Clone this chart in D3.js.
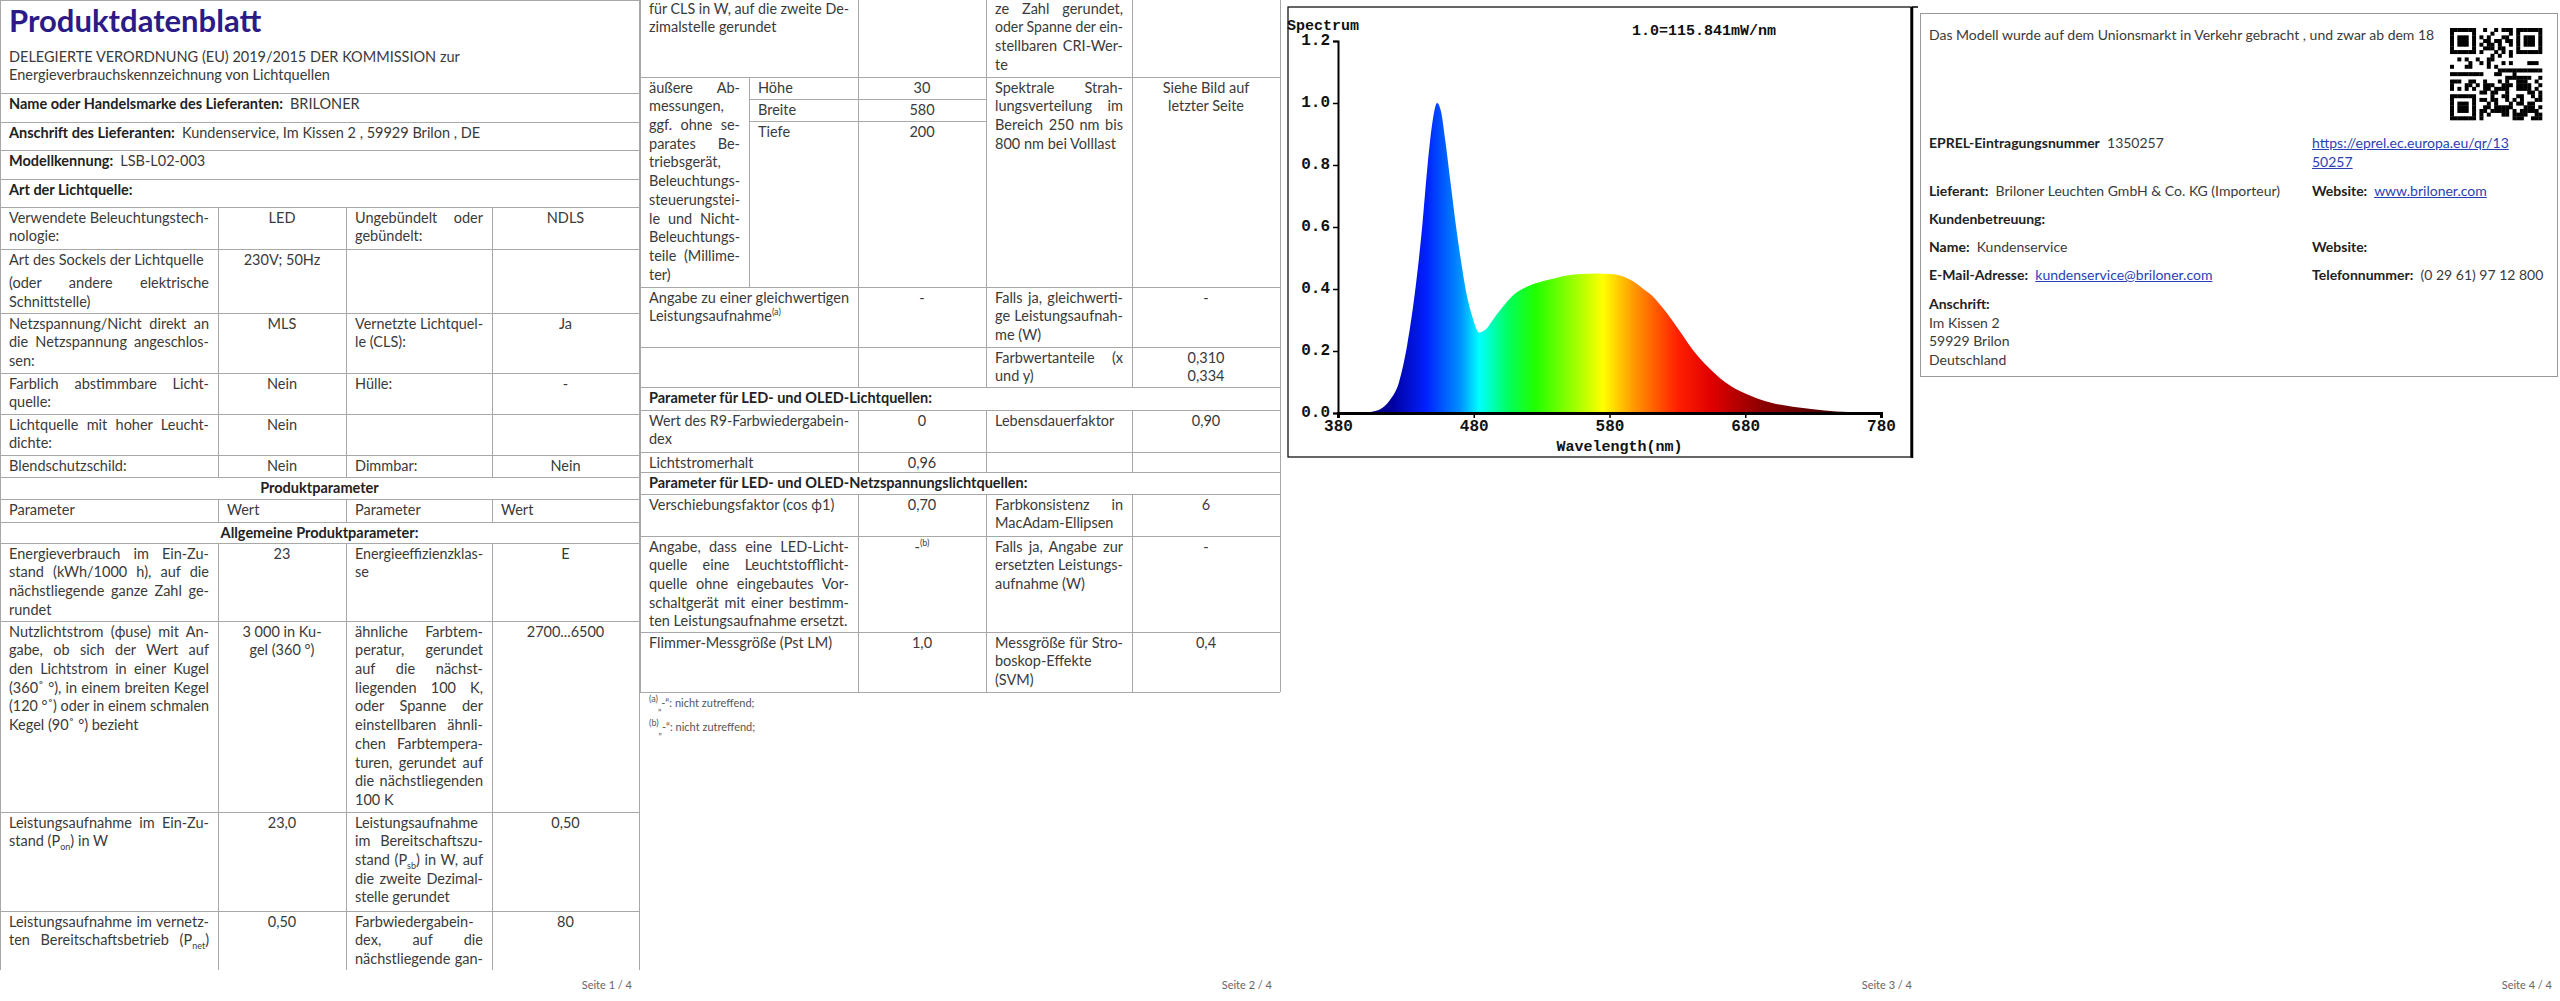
<!DOCTYPE html>
<html>
<head>
<meta charset="utf-8">
<script src="https://cdn.jsdelivr.net/npm/d3@7"></script>
<style>
  body { margin: 0; width: 2560px; height: 1001px; background: #fff; overflow: hidden; position: relative;
         font-family: Lato, "Open Sans", sans-serif; color: #3a3a3a; }
  svg { position: absolute; left: 0; top: 0; }
  .t { position: absolute; font-size: 14.5px; line-height: 18.7px; white-space: nowrap; transform-origin: 0 0; }
  .t sub, .t sup { font-size: 9px; line-height: 0; }
  .b { font-weight: bold; color: #222; }
  .foot { position: absolute; font-size: 11px; color: #666; font-family: Lato, sans-serif; }
  a { color: #2a3fb5; }
</style>
</head>
<body>
<script>
// ---- spectrum data ----
const wavelengths = [380, 400, 410, 418, 425, 431, 437, 442, 446, 450, 453, 456, 459, 463, 467, 471, 474, 479, 484, 489, 494, 501, 509, 518, 527, 540, 551, 560, 570, 581, 590, 599, 605, 611, 619, 626, 634, 642, 650, 657, 665, 672, 680, 687, 695, 702, 715, 730, 747, 765, 780];
const spectrum    = [0.0, 0.002, 0.01, 0.04, 0.1, 0.22, 0.4, 0.6, 0.8, 0.95, 1.0, 0.97, 0.88, 0.74, 0.6, 0.48, 0.4, 0.31, 0.26, 0.27, 0.3, 0.34, 0.38, 0.405, 0.42, 0.435, 0.445, 0.448, 0.45, 0.448, 0.44, 0.42, 0.4, 0.38, 0.34, 0.3, 0.25, 0.2, 0.16, 0.13, 0.1, 0.08, 0.063, 0.05, 0.038, 0.03, 0.02, 0.012, 0.005, 0.002, 0.0];
const xTicks = [380, 480, 580, 680, 780];
const yTicks = [0, 0.2, 0.4, 0.6, 0.8, 1.0, 1.2];
const colorStops = [[380, "#10004a"], [420, "#0000a0"], [445, "#0020ff"], [470, "#0090ff"], [484, "#00ffff"], [505, "#00ff60"], [525, "#20ff00"], [555, "#a0ff00"], [575, "#ffff00"], [600, "#ff9000"], [630, "#ff2000"], [655, "#e00000"], [690, "#900000"], [740, "#500000"], [780, "#300000"]];

// ---- page 1 ----
const title = "Produktdatenblatt";
const subtitle = ["DELEGIERTE VERORDNUNG (EU) 2019/2015 DER KOMMISSION zur", "Energieverbrauchskennzeichnung von Lichtquellen"];
const headRows = [
  ["Name oder Handelsmarke des Lieferanten:", "BRILONER"],
  ["Anschrift des Lieferanten:", "Kundenservice, Im Kissen 2 , 59929 Brilon , DE"],
  ["Modellkennung:", "LSB-L02-003"],
  ["Art der Lichtquelle:", ""]
];
const headLines = [93, 122, 150, 179, 207];
const cols1 = [0, 218, 346, 492, 639];
const rows1 = [
  [207, 249, ["Verwendete Beleuchtungstech-", "nologie:"], ["LED"], ["Ungebündelt oder", "gebündelt:"], ["NDLS"]],
  [249, 313, ["Art des Sockels der Lichtquelle", "^(oder andere elektrische", "Schnittstelle)"], ["230V; 50Hz"], [], []],
  [313, 373, ["Netzspannung/Nicht direkt an", "die Netzspannung angeschlos-", "sen:"], ["MLS"], ["Vernetzte Lichtquel-", "le (CLS):"], ["Ja"]],
  [373, 414, ["Farblich abstimmbare Licht-", "quelle:"], ["Nein"], ["Hülle:"], ["-"]],
  [414, 455, ["Lichtquelle mit hoher Leucht-", "dichte:"], ["Nein"], [], []],
  [455, 477, ["Blendschutzschild:"], ["Nein"], ["Dimmbar:"], ["Nein"]],
  [477, 499, "Produktparameter"],
  [499, 522, ["Parameter"], ["Wert"], ["Parameter"], ["Wert"], "head"],
  [522, 543, "Allgemeine Produktparameter:"],
  [543, 621, ["Energieverbrauch im Ein-Zu-", "stand (kWh/1000 h), auf die", "nächstliegende ganze Zahl ge-", "rundet"], ["23"], ["Energieeffizienzklas-", "se"], ["E"]],
  [621, 812, ["Nutzlichtstrom (ϕuse) mit An-", "gabe, ob sich der Wert auf", "den Lichtstrom in einer Kugel", "(360˚ °), in einem breiten Kegel", "(120 °˚) oder in einem schmalen", "Kegel (90˚ °) bezieht"], ["3 000 in Ku-", "gel (360 °)"],
    ["ähnliche Farbtem-", "peratur, gerundet", "auf die nächst-", "liegenden 100 K,", "oder Spanne der", "einstellbaren ähnli-", "chen Farbtempera-", "turen, gerundet auf", "die nächstliegenden", "100 K"], ["2700...6500"]],
  [812, 911, ["Leistungsaufnahme im Ein-Zu-", "stand (P<sub>on</sub>) in W"], ["23,0"], ["Leistungsaufnahme", "im Bereitschaftszu-", "stand (P<sub>sb</sub>) in W, auf", "die zweite Dezimal-", "stelle gerundet"], ["0,50"]],
  [911, 970, ["Leistungsaufnahme im vernetz-", "ten Bereitschaftsbetrieb (P<sub>net</sub>)", "~"], ["0,50"], ["Farbwiedergabein-", "dex, auf die", "nächstliegende gan-", "~"], ["80"], "open"]
];

// ---- page 2 ----
const cols2 = [640, 858, 986, 1132, 1280];
const rows2 = [
  [-2, 77, ["für CLS in W, auf die zweite De-", "zimalstelle gerundet"], [], ["ze Zahl gerundet,", "oder Spanne der ein-", "stellbaren CRI-Wer-", "te"], []],
  [77, 287, [], [], ["Spektrale Strah-", "lungsverteilung im", "Bereich 250 nm bis", "800 nm bei Volllast"], ["Siehe Bild auf", "letzter Seite"], "dims"],
  [287, 347, ["Angabe zu einer gleichwertigen", "Leistungsaufnahme<sup>(a)</sup>"], ["-"], ["Falls ja, gleichwerti-", "ge Leistungsaufnah-", "me (W)"], ["-"]],
  [347, 387, [], [], ["Farbwertanteile (x", "und y)"], ["0,310", "0,334"]],
  [387, 410, "Parameter für LED- und OLED-Lichtquellen:", "left"],
  [410, 452, ["Wert des R9-Farbwiedergabein-", "dex"], ["0"], ["Lebensdauerfaktor"], ["0,90"]],
  [452, 472, ["Lichtstromerhalt"], ["0,96"], [], []],
  [472, 494, "Parameter für LED- und OLED-Netzspannungslichtquellen:", "left"],
  [494, 536, ["Verschiebungsfaktor (cos ϕ1)"], ["0,70"], ["Farbkonsistenz in", "MacAdam-Ellipsen"], ["6"]],
  [536, 632, ["Angabe, dass eine LED-Licht-", "quelle eine Leuchtstofflicht-", "quelle ohne eingebautes Vor-", "schaltgerät mit einer bestimm-", "ten Leistungsaufnahme ersetzt."], ["-<sup>(b)</sup>"], ["Falls ja, Angabe zur", "ersetzten Leistungs-", "aufnahme (W)"], ["-"]],
  [632, 692, ["Flimmer-Messgröße (Pst LM)"], ["1,0"], ["Messgröße für Stro-", "boskop-Effekte", "(SVM)"], ["0,4"]]
];
const dimX = 749;
const dimLabel = ["äußere Ab-", "messungen,", "ggf. ohne se-", "parates Be-", "triebsgerät,", "Beleuchtungs-", "steuerungstei-", "le und Nicht-", "Beleuchtungs-", "teile (Millime-", "ter)"];
const dimRows = [[77, 99, "Höhe", "30"], [99, 121, "Breite", "580"], [121, 287, "Tiefe", "200"]];
const footnotes = ["<sup>(a)</sup><sub>„</sub>-“: nicht zutreffend;", "<sup>(b)</sup><sub>„</sub>-“: nicht zutreffend;"];

// ---- page 4 ----
const qrUrl = "https://eprel.ec.europa.eu/qr/1350257";
const info4 = [
  [35, ["", "Das Modell wurde auf dem Unionsmarkt in Verkehr gebracht , und zwar ab dem 18"]],
  [143, ["EPREL-Eintragungsnummer", "1350257"], ["", "https://eprel.ec.europa.eu/qr/13", "link"]],
  [162, null, ["", "50257", "link"]],
  [191, ["Lieferant:", "Briloner Leuchten GmbH &amp; Co. KG  (Importeur)"], ["Website:", "www.briloner.com", "link"]],
  [219, ["Kundenbetreuung:", ""]],
  [247, ["Name:", "Kundenservice"], ["Website:", "", "text"]],
  [275, ["E-Mail-Adresse:", "<a href='#'>kundenservice@briloner.com</a>"], ["Telefonnummer:", "(0 29 61) 97 12 800", "text"]],
  [304, ["Anschrift:", ""]],
  [323, ["", "Im Kissen 2"]],
  [341, ["", "59929 Brilon"]],
  [360, ["", "Deutschland"]]
];
const pageLabels = ["Seite 1 / 4", "Seite 2 / 4", "Seite 3 / 4", "Seite 4 / 4"];

const body = d3.select("body");
const svg = body.append("svg").attr("width", 2560).attr("height", 1001);
const grid = svg.append("g").attr("stroke", "#a8a8a8").attr("stroke-width", 1).attr("fill", "none");
const LH = 18.7;

function hline(x0, x1, y) { grid.append("line").attr("x1", x0).attr("x2", x1).attr("y1", y + 0.5).attr("y2", y + 0.5); }
function vline(x, y0, y1) { grid.append("line").attr("x1", x + 0.5).attr("x2", x + 0.5).attr("y1", y0).attr("y2", y1); }

function text(x, y, html, cls, extra) {
  const d = body.append("div").attr("class", "t " + (cls || "")).style("left", x + "px").style("top", y + "px").html(html);
  if (extra) Object.entries(extra).forEach(([k, v]) => d.style(k, v));
  return d;
}

// fit a single line into width w: stretch word gaps when justified, squeeze when too long
function fit(d, w, justify) {
  const node = d.node();
  const nat = node.getBoundingClientRect().width;
  if (nat > w) {
    d.style("transform", `scaleX(${w / nat})`);
  } else if (justify) {
    const gaps = (node.textContent.trim().match(/ +/g) || []).length;
    if (gaps > 0) d.style("word-spacing", ((w - nat) / gaps) + "px");
  }
}

function cell(x0, x1, top, lines, align, bold) {
  let y = top + 1.6;
  const w = x1 - x0 - 18;
  lines.forEach((ln, i) => {
    if (ln === "~") return;
    let s = ln;
    if (s.startsWith("^")) { s = s.slice(1); y += 5; }
    const next = lines[i + 1];
    const just = align === "j" && next !== undefined && !next.startsWith("^");
    const d = text(x0 + 9, y, s, bold ? "b" : "");
    const nat = d.node().getBoundingClientRect().width;
    if (align === "c" && nat <= w) d.style("left", (x0 + 9 + (w - nat) / 2) + "px");
    fit(d, w, just);
    y += LH;
  });
}

function table(cols, rows) {
  const left = cols[0], right = cols[cols.length - 1];
  rows.forEach(r => {
    const [t, b] = r;
    if (t > 0) hline(left, right, t);
    if (typeof r[2] === "string") {
      cell(left, right, t, [r[2]], r[3] === "left" ? "l" : "c", true);
    } else {
      const head = r[6] === "head";
      cell(cols[0], cols[1], t, r[2], head ? "l" : "j");
      cell(cols[1], cols[2], t, r[3], head ? "l" : "c");
      cell(cols[2], cols[3], t, r[4], head ? "l" : "j");
      cell(cols[3], cols[4], t, r[5], head ? "l" : "c");
      cols.slice(1, -1).forEach(x => vline(x, Math.max(t, 0), b));
    }
    if (r[6] !== "open") hline(left, right, b);
    vline(left, Math.max(t, 0), b);
    vline(right, Math.max(t, 0), b);
  });
}

// page 1
text(9, 2, title, "b", { "font-size": "31px", "line-height": "36px", color: "#2c1a86" });
subtitle.forEach((s, i) => text(9, 57 - LH / 2 + i * LH, s));
vline(0, 0, 207); vline(639, 0, 207); hline(0, 639, 0);
headRows.forEach((r, i) => {
  const y = headLines[i] + 11 - LH / 2;
  text(9, y, r[0] + (r[1] ? "&nbsp; <span style='font-weight:normal;color:#3a3a3a'>" + r[1] + "</span>" : ""), "b");
});
headLines.forEach(y => hline(0, 639, y));
table(cols1, rows1);

// page 2
table(cols2, rows2);
cell(cols2[0], dimX, 77, dimLabel, "j");
dimRows.forEach(([t, b, lab, val]) => {
  if (t > 77) hline(dimX, cols2[2], t);
  cell(dimX, cols2[1], t, [lab], "l");
  cell(cols2[1], cols2[2], t, [val], "c");
});
vline(dimX, 77, 287);
footnotes.forEach((f, i) => text(649, 703 - LH / 2 + i * 24, f, "", { "font-size": "11px", color: "#555" }));

// page 3: spectrum chart
const x = d3.scaleLinear().domain([380, 780]).range([1338, 1881]);
const y = d3.scaleLinear().domain([0, 1.2]).range([413, 41]);
const mono = "'Liberation Mono', 'DejaVu Sans Mono', monospace";
svg.append("rect").attr("x", 1288).attr("y", 7).attr("width", 623).attr("height", 450)
  .attr("fill", "none").attr("stroke", "#000").attr("stroke-width", 1.2);
svg.append("line").attr("x1", 1912).attr("x2", 1912).attr("y1", 7).attr("y2", 458).attr("stroke", "#000").attr("stroke-width", 2.5);
svg.append("line").attr("x1", 1912).attr("x2", 1918).attr("y1", 7).attr("y2", 7).attr("stroke", "#000").attr("stroke-width", 1.5);

const grad = svg.append("defs").append("linearGradient").attr("id", "spec")
  .attr("gradientUnits", "userSpaceOnUse").attr("x1", x(380)).attr("x2", x(780)).attr("y1", 0).attr("y2", 0);
grad.selectAll("stop").data(colorStops).join("stop")
  .attr("offset", d => (d[0] - 380) / 400).attr("stop-color", d => d[1]);

const pts = wavelengths.map((w, i) => [w, spectrum[i]]);
svg.append("path").datum(pts)
  .attr("d", d3.area().x(d => x(d[0])).y0(y(0)).y1(d => y(d[1])).curve(d3.curveMonotoneX))
  .attr("fill", "url(#spec)");

const yAxis = svg.append("g").attr("transform", `translate(${x(380)},0)`)
  .call(d3.axisLeft(y).tickValues(yTicks).tickFormat(d3.format(".1f")).tickSize(5).tickPadding(3));
const xAxis = svg.append("g").attr("transform", `translate(0,${y(0)})`)
  .call(d3.axisBottom(x).tickValues(xTicks).tickSize(5).tickPadding(2));
[yAxis, xAxis].forEach(g => {
  g.selectAll("text").attr("font-family", mono).attr("font-weight", "bold").attr("font-size", 16).attr("fill", "#111");
  g.select(".domain").attr("stroke", "#000").attr("stroke-width", 2);
  g.selectAll(".tick line").attr("stroke", "#000").attr("stroke-width", 1.5);
});
xAxis.select(".domain").attr("stroke-width", 3);
yAxis.selectAll(".tick text").attr("dy", "0.2em");
svg.append("text").attr("x", 1287).attr("y", 30).text("Spectrum")
  .attr("font-family", mono).attr("font-weight", "bold").attr("font-size", 15).attr("fill", "#111");
svg.append("text").attr("x", 1632).attr("y", 35).text("1.0=115.841mW/nm")
  .attr("font-family", mono).attr("font-weight", "bold").attr("font-size", 15).attr("fill", "#111");
svg.append("text").attr("x", (x(380) + x(780)) / 2 + 10).attr("y", 451).attr("text-anchor", "middle").text("Wavelength(nm)")
  .attr("font-family", mono).attr("font-weight", "bold").attr("font-size", 15).attr("fill", "#111");

// page 4
svg.append("rect").attr("x", 1920.5).attr("y", 13.5).attr("width", 637).attr("height", 363)
  .attr("fill", "none").attr("stroke", "#999");
function part(lab, val, kind) {
  const l = lab ? "<span class='b'>" + lab + "</span>&nbsp; " : "";
  return l + (kind === "link" && val ? "<a href='#'>" + val + "</a>" : val);
}
info4.forEach(([yc, left, right]) => {
  const top = yc - LH / 2;
  if (left) text(1929, top, part(left[0], left[1]), "", { "font-size": "14px" });
  if (right) text(2312, top, part(right[0], right[1], right[2]), "", { "font-size": "14px" });
});

// QR code look-alike, modules derived from the URL string
const N = 25, qx = 2450, qy = 28, ms = 92 / N;
let h = 0;
for (const c of qrUrl) h = (h * 31 + c.charCodeAt(0)) >>> 0;
const bits = [];
for (let i = 0; i < N * N; i++) { h = (h * 1103515245 + 12345) >>> 0; bits.push((h >>> 16) & 1); }
const qr = svg.append("g").attr("fill", "#000");
qr.append("rect").attr("x", qx - 3).attr("y", qy - 3).attr("width", 98).attr("height", 98).attr("fill", "#fff");
function inFinder(r, c) {
  return [[0, 0], [0, N - 7], [N - 7, 0]].find(([fr, fc]) => r >= fr - 1 && r < fr + 8 && c >= fc - 1 && c < fc + 8);
}
for (let r = 0; r < N; r++) for (let c = 0; c < N; c++) {
  const f = inFinder(r, c);
  let on;
  if (f) {
    const rr = r - f[0], cc = c - f[1];
    if (rr < 0 || cc < 0 || rr > 6 || cc > 6) on = false;
    else on = rr === 0 || rr === 6 || cc === 0 || cc === 6 || (rr >= 2 && rr <= 4 && cc >= 2 && cc <= 4);
  } else on = bits[r * N + c] === 1;
  if (on) qr.append("rect").attr("x", qx + c * ms).attr("y", qy + r * ms).attr("width", ms + 0.3).attr("height", ms + 0.3);
}

// footers
pageLabels.forEach((p, i) => {
  body.append("div").attr("class", "foot").style("left", (640 * i + 560) + "px").style("top", "978px")
    .style("width", "72px").style("text-align", "right").text(p);
});
</script>
</body>
</html>
